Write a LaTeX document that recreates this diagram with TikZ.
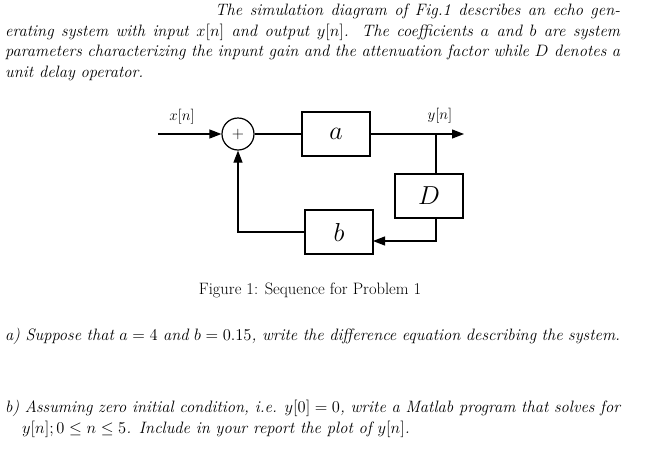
\documentclass[tikz,border=0pt]{standalone}
\usepackage{fix-cm}
\usepackage{fontspec}
\usetikzlibrary{arrows.meta}
\begin{document}
\begin{tikzpicture}[x=1pt,y=-1pt,
 blk/.style={draw,line width=1.2pt,minimum width=68pt,minimum height=44pt,font=\fontsize{26}{28}\selectfont},
 sumc/.style={draw,circle,line width=1.2pt,minimum size=32pt,inner sep=0pt,font=\fontsize{16}{16}\selectfont},
 wire/.style={line width=1.2pt},
 arr/.style={wire,-{Triangle[length=12pt,width=9pt]}},
 txt/.style={anchor=north west,inner sep=0pt,text width=615pt,align=justify,font=\fontsize{16.5}{20.5}\selectfont\itshape}]
\useasboundingbox (0,0) rectangle (646,464);
\node[txt] (t1) at (5,4) {\hspace*{210pt}The simulation diagram of Fig.1 describes an echo generating system with input $x[n]$ and output $y[n]$. The coefficients $a$ and $b$ are system parameters characterizing the inpunt gain and the attenuation factor while $D$ denotes a unit delay operator.\par};
\node[sumc] (s) at (238,134) {$+$};
\node[blk] (a) at (336,134) {$a$};
\node[blk] (d) at (429,196) {$D$};
\node[blk] (b) at (339,232) {$b$};
\coordinate (xin) at (158,134);
\coordinate (yout) at (464,134);
\coordinate (br) at (436,134);
\coordinate (bin) at (373,241);
\node[font=\fontsize{15}{15}\selectfont] (xl) at (182,117) {$x[n]$};
\node[font=\fontsize{15}{15}\selectfont] (yl) at (440,116) {$y[n]$};
\draw[arr] (xin) -- (s);
\draw[wire] (s) -- (a);
\draw[arr] (a) -- (yout);
\draw[wire] (br) -- (br|-d.north);
\draw[arr] (br|-d.south) |- (bin);
\draw[arr] (b.west) -| (s.south);
\node[font=\fontsize{16.5}{17}\selectfont] (cap) at (310,290) {Figure 1: Sequence for Problem 1};
\node[txt] (q1) at (5,328) {\hangindent=17pt a) Suppose that $a=4$ and $b=0.15$, write the difference equation describing the system.\par};
\node[txt] (q2) at (5,400) {\hangindent=17pt b) Assuming zero initial condition, i.e. $y[0]=0$, write a Matlab program that solves for $y[n]; 0\le n\le 5$. Include in your report the plot of $y[n]$.\par};
\end{tikzpicture}
\end{document}
